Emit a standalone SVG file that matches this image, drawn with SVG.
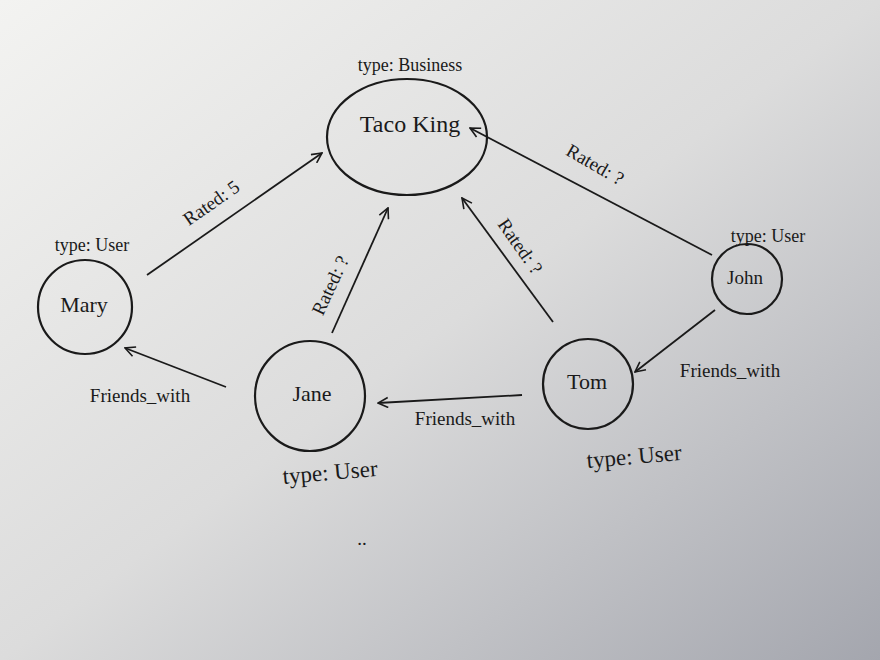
<svg xmlns="http://www.w3.org/2000/svg" width="880" height="660" viewBox="0 0 880 660">
<defs>
<linearGradient id="bg" x1="0" y1="0" x2="1" y2="1">
<stop offset="0" stop-color="#f3f3f1"/><stop offset="0.5" stop-color="#dcdcdc"/><stop offset="1" stop-color="#a4a6ae"/>
</linearGradient>
<marker id="ah" viewBox="0 0 12 12" refX="11" refY="6" markerWidth="12" markerHeight="12" markerUnits="userSpaceOnUse" orient="auto">
<path d="M1,1 L11,6 L1,11" fill="none" stroke="#1a1a1a" stroke-width="1.6"/>
</marker>
<style>
.n{fill:none;stroke:#1a1a1a;stroke-width:2.2}
.e{fill:none;stroke:#1a1a1a;stroke-width:1.8;marker-end:url(#ah)}
text{font-family:"Liberation Serif","DejaVu Serif",serif;fill:#1a1a1a;font-size:19px;text-anchor:middle}
.t{font-size:18px}
.big{font-size:23px}
</style>
</defs>
<rect width="880" height="660" fill="url(#bg)"/>
<g id="taco"><ellipse class="n" cx="407" cy="137" rx="80" ry="58"/><text x="410" y="132" style="font-size:24px">Taco King</text><text class="t" x="410" y="71">type: Business</text></g>
<g id="mary"><circle class="n" cx="85" cy="307" r="47"/><text x="84" y="312" style="font-size:22px">Mary</text><text class="t" x="92" y="251">type: User</text></g>
<g id="jane"><circle class="n" cx="310" cy="396" r="55"/><text x="312" y="401" style="font-size:22px">Jane</text><text class="big" x="330" y="480" transform="rotate(-5 330 472)">type: User</text></g>
<g id="tom"><circle class="n" cx="588" cy="384" r="45"/><text x="587" y="389" style="font-size:22px">Tom</text><text class="big" x="634" y="464" transform="rotate(-5 634 456)">type: User</text></g>
<g id="john"><circle class="n" cx="747" cy="279" r="35"/><text x="745" y="284">John</text><text class="t" x="768" y="242">type: User</text></g>
<g id="edges">
<path class="e" d="M147,275 L322,153"/>
<path class="e" d="M332,333 L388,208"/>
<path class="e" d="M553,322 L462,198"/>
<path class="e" d="M712,255 L470,128"/>
<path class="e" d="M715,310 L635,372"/>
<path class="e" d="M522,395 L378,403"/>
<path class="e" d="M226,387 L125,348"/>
<text x="215" y="208" transform="rotate(-35 215 208)">Rated: 5</text>
<text x="336" y="288" transform="rotate(-65 336 288)">Rated: ?</text>
<text x="515" y="250" transform="rotate(55 515 250)">Rated: ?</text>
<text x="592" y="170" transform="rotate(30 592 170)">Rated: ?</text>
<text x="730" y="377">Friends_with</text>
<text x="465" y="425">Friends_with</text>
<text x="140" y="402">Friends_with</text>
</g>
<text x="362" y="545">..</text>
</svg>
